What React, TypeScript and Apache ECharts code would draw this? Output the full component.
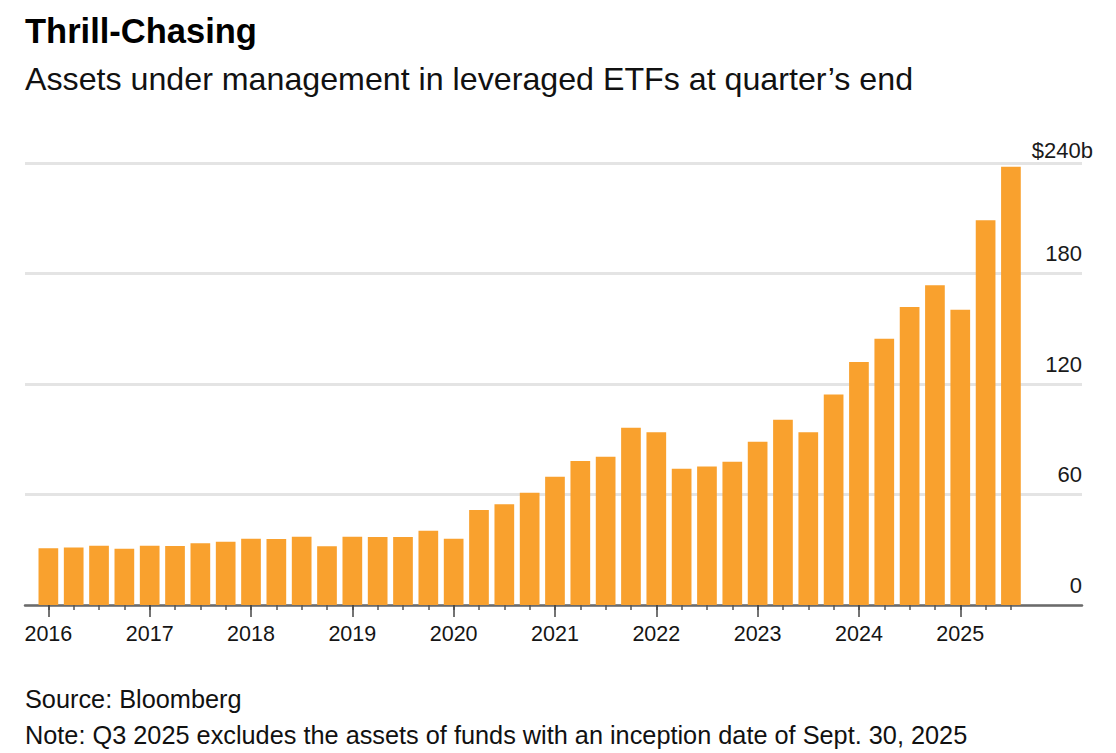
import React, { useEffect, useRef } from "react";
import * as echarts from "echarts";

// Quarter-end categories, Q1 2016 through Q3 2025
const years = ["2016", "2017", "2018", "2019", "2020", "2021", "2022", "2023", "2024", "2025"];
const quarterNames = ["Q1", "Q2", "Q3", "Q4"];
const categories: string[] = years
  .flatMap((y) => quarterNames.map((q) => `${q} ${y}`))
  .slice(0, 39);

// Assets under management in leveraged ETFs, $ billions
const aum: number[] = [
  30.8, 31.3, 32.2, 30.6,
  32.2, 32.0, 33.6, 34.4,
  36.0, 35.8, 37.1, 31.9,
  37.1, 37.0, 37.0, 40.3,
  36.0, 51.6, 54.8, 61.0,
  69.7, 78.2, 80.5, 96.3,
  93.9, 74.0, 75.3, 77.8,
  88.7, 100.7, 93.9, 114.4,
  132.0, 144.7, 161.9, 173.8,
  160.4, 209.0, 238.1,
];

const yTicks: number[] = [0, 60, 120, 180, 240];
const yTickLabels: string[] = ["0", "60", "120", "180", "$240b"];

const titleText = "Thrill-Chasing";
const subtitleText = "Assets under management in leveraged ETFs at quarter\u2019s end";
const sourceText = "Source: Bloomberg";
const noteText = "Note: Q3 2025 excludes the assets of funds with an inception date of Sept. 30, 2025";

const FONT = "'Liberation Sans', Arial, Helvetica, sans-serif";
const BAR_COLOR = "#F9A12E";

export default function App() {
  const ref = useRef<HTMLDivElement>(null);

  useEffect(() => {
    if (!ref.current) return;
    const chart = echarts.init(ref.current, null, { renderer: "svg" });
    const yMax = yTicks[yTicks.length - 1];
    const yStep = yTicks[1] - yTicks[0];

    const option: any = {
      animation: false,
      backgroundColor: "#ffffff",
      textStyle: { fontFamily: FONT },
      grid: [
        { left: 25, right: 34, top: 163.3, bottom: 148 },
        { left: 35.7, right: 92.4, top: 163.3, bottom: 148 },
      ],
      xAxis: [
        {
          gridIndex: 0,
          type: "value",
          min: 0,
          max: 1,
          axisLine: { show: true, onZero: false, lineStyle: { color: "#6b6b6b", width: 2.5 } },
          axisTick: { show: false },
          axisLabel: { show: false },
          splitLine: { show: false },
        },
        {
          gridIndex: 1,
          type: "category",
          position: "bottom",
          data: categories,
          axisLine: { show: false },
          axisTick: {
            show: true,
            alignWithLabel: true,
            interval: 0,
            length: 5,
            lineStyle: { color: "#555555", width: 1.5 },
          },
          axisLabel: { show: false },
          splitLine: { show: false },
        },
        {
          gridIndex: 1,
          type: "category",
          position: "bottom",
          data: categories,
          axisLine: { show: false },
          axisTick: {
            show: true,
            alignWithLabel: true,
            interval: 3,
            length: 12,
            lineStyle: { color: "#444444", width: 1.5 },
          },
          axisLabel: {
            show: true,
            interval: 3,
            formatter: (v: string) => v.split(" ")[1],
            fontSize: 21.5,
            fontFamily: FONT,
            color: "#151515",
            margin: 29,
            verticalAlign: "middle",
          },
          splitLine: { show: false },
        },
      ],
      yAxis: [
        {
          gridIndex: 0,
          type: "value",
          position: "right",
          min: 0,
          max: yMax,
          interval: yStep,
          axisLine: { show: false },
          axisTick: { show: false },
          splitLine: { show: true, lineStyle: { color: "#e4e4e4", width: 3 } },
          axisLabel: { show: false },
        },
        {
          gridIndex: 1,
          type: "value",
          min: 0,
          max: yMax,
          interval: yStep,
          show: false,
          splitLine: { show: false },
        },
      ],
      series: [
        {
          type: "bar",
          xAxisIndex: 1,
          yAxisIndex: 1,
          data: aum,
          barWidth: 19.7,
          itemStyle: { color: BAR_COLOR },
          z: 1,
        },
      ],
    };
    chart.setOption(option);

    // Tick labels sit above their gridlines, right-aligned at the gridline end;
    // the top label's "$" and "b" hang past the digits.
    const tickGraphics = yTicks.map((v, i) => {
      const py = chart.convertToPixel({ yAxisIndex: 0 }, v) as number;
      const isTop = i === yTicks.length - 1;
      return {
        type: "text",
        x: isTop ? 1093 : 1082,
        y: py - (isTop ? 13 : 20),
        style: {
          text: yTickLabels[i],
          fontSize: 22,
          fontFamily: FONT,
          fill: "#1a1a1a",
          align: "right",
          verticalAlign: "middle",
        },
      };
    });

    chart.setOption({
      graphic: [
        {
          type: "text",
          x: 25,
          y: 31,
          style: {
            text: titleText,
            fontSize: 34.5,
            fontWeight: "bold",
            fontFamily: FONT,
            fill: "#000000",
            align: "left",
            verticalAlign: "middle",
          },
        },
        {
          type: "text",
          x: 25,
          y: 79,
          style: {
            text: subtitleText,
            fontSize: 32.2,
            fontFamily: FONT,
            fill: "#111111",
            align: "left",
            verticalAlign: "middle",
          },
        },
        ...tickGraphics,
        {
          type: "text",
          x: 25,
          y: 699,
          style: {
            text: sourceText,
            fontSize: 25.3,
            fontFamily: FONT,
            fill: "#111111",
            align: "left",
            verticalAlign: "middle",
          },
        },
        {
          type: "text",
          x: 25,
          y: 735,
          style: {
            text: noteText,
            fontSize: 25.3,
            fontFamily: FONT,
            fill: "#111111",
            align: "left",
            verticalAlign: "middle",
          },
        },
      ],
    });

    return () => chart.dispose();
  }, []);

  return (
    <div
      ref={ref}
      style={{ position: "absolute", left: 0, top: 0, width: 1116, height: 753 }}
    />
  );
}
